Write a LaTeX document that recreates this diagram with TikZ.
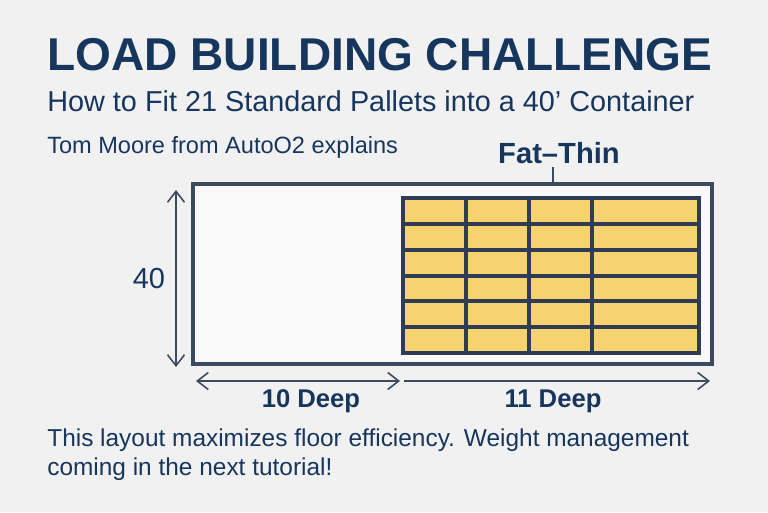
\documentclass[tikz,border=0pt]{standalone}
\usepackage{fontspec}
\setmainfont{Liberation Sans}
\usetikzlibrary{arrows.meta,positioning}
\definecolor{navy}{HTML}{17365D}
\definecolor{bggray}{HTML}{F1F1F1}
\definecolor{boxline}{HTML}{3B4A5E}
\definecolor{palletfill}{HTML}{F7D36F}
\definecolor{palletline}{HTML}{2E3D55}
\tikzset{
  title/.style={text=navy, font=\fontsize{26.2}{30}\selectfont\bfseries, inner sep=0pt},
  subtitle/.style={text=navy, font=\fontsize{16.4}{19}\selectfont, inner sep=0pt, anchor=west},
  bodytext/.style={text=navy, font=\fontsize{13.9}{16.5}\selectfont, inner sep=0pt, anchor=north west, align=left},
  dimlabel/.style={text=navy, font=\fontsize{14.6}{17}\selectfont\bfseries, inner sep=0pt},
  container/.style={draw=boxline, fill=white!60!bggray, line width=2pt},
  pallet/.style={draw=palletline, fill=palletfill, line width=1.9pt},
  dimarrow/.style={{Straight Barb[length=2.2mm,width=3.4mm]}-{Straight Barb[length=2.2mm,width=3.4mm]}, line width=0.9pt, draw=boxline},
  onearrow/.style={-{Straight Barb[length=2.2mm,width=3.4mm]}, line width=0.9pt, draw=boxline}
}
\begin{document}
\begin{tikzpicture}[x=0.02cm, y=-0.02cm]
  \fill[bggray] (0,0) rectangle (768,512);

  % headings
  \node[title] (head) at (380,55) {LOAD BUILDING CHALLENGE};
  \node[subtitle] (sub) at (47,101) {How to Fit 21 Standard Pallets into a 40’ Container};
  \node[subtitle, font=\fontsize{13.4}{16}\selectfont] (author) at (47,147) {Tom Moore from AutoO2 explains};

  % container and pallets
  \draw[container] (193,184) rectangle (712,364);
  \coordinate (ctop) at (553,184);
  \foreach \xa/\xb in {403/466, 466/529, 529/592, 592/699}
    \foreach \ya/\yb in {198/224, 224/250, 250/276, 276/301, 301/327, 327/353}
      \draw[pallet] (\xa,\ya) rectangle (\xb,\yb);
  \node[dimlabel, font=\fontsize{16.6}{19}\selectfont\bfseries] (fatthin) at (559,153) {Fat–Thin};
  \draw[line width=1pt, boxline] (ctop) -- (553,167);

  % dimensions
  \coordinate (vtop) at (176,190);
  \coordinate (vbot) at (176,367);
  \draw[dimarrow] (vtop) -- (vbot);
  \node[text=navy, font=\fontsize{16.5}{19}\selectfont, inner sep=0pt] (width) at (149,279) {40};

  \coordinate (hleft) at (196,381);
  \coordinate (hmid) at (400,381);
  \coordinate (hmid2) at (404,381);
  \coordinate (hright) at (710,381);
  \draw[dimarrow] (hleft) -- (hmid);
  \draw[onearrow] (hmid2) -- (hright);
  \node[dimlabel] (deepa) at (311,401) {10 Deep};
  \node[dimlabel] (deepb) at (553,401) {11 Deep};

  % footer
  \node[bodytext] (note) at (47,428) {This layout maximizes floor efficiency. Weight management\\coming in the next tutorial!};
\end{tikzpicture}
\end{document}
